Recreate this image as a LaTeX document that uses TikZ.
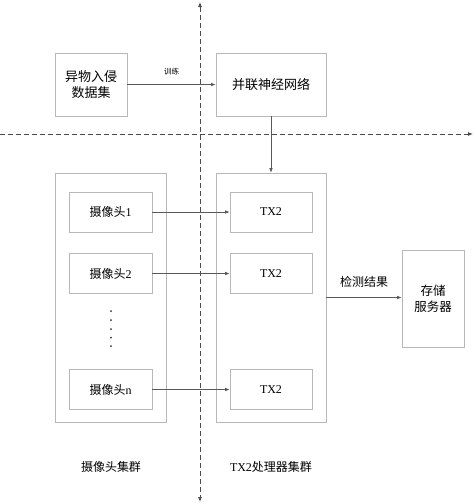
\documentclass[tikz,border=0pt]{standalone}
\usepackage{fontspec}
\setmainfont{Liberation Serif}
\newfontfamily\cjk{Noto Sans CJK SC}
\usetikzlibrary{arrows.meta}

\tikzset{
  box/.style={draw=black!28, line width=0.6pt, rectangle, align=center, inner sep=0pt},
  link/.style={draw=black!65, line width=0.6pt, -{Latex[length=4.5pt,width=3.5pt]}},
  axis/.style={draw=black!70, line width=0.8pt, dash pattern=on 5pt off 3pt},
}

\begin{document}
\begin{tikzpicture}[x=1pt, y=-1pt]
			%%%%% START %%%%%
			\useasboundingbox (0, 0) rectangle (474, 504);
			
			% axes
			\coordinate (vtop) at (200, 2);
			\coordinate (vbot) at (200, 502);
			\coordinate (hleft) at (0, 134);
			\coordinate (hright) at (473, 134);
			\draw[axis, {Latex[length=5pt,width=4pt]}-{Latex[length=5pt,width=4pt]}] (vtop) -- (vbot);
			\draw[axis, -{Latex[length=5pt,width=4pt]}] (hleft) -- (hright);
			
			% training
			\node[box, minimum width=72pt, minimum height=63pt, font=\cjk\fontsize{13}{16}\selectfont] (data) at (91, 84.5) {异物入侵\\数据集};
			\node[box, minimum width=110pt, minimum height=63pt, font=\cjk\fontsize{13}{16}\selectfont] (net) at (271, 84.5) {并联神经网络};
			\draw[link] (data) -- node[above=6pt, font=\cjk\fontsize{7.5}{9}\selectfont] (train) {训练} (net);
			
			% clusters
			\node[box, minimum width=111pt, minimum height=249pt] (camgrp) at (110.5, 297.5) {};
			\node[box, minimum width=110pt, minimum height=249pt] (tx2grp) at (271, 297.5) {};
			\draw[link] (net.south) -- (tx2grp.north);
			
			\node[box, minimum width=83pt, minimum height=40pt, font=\fontsize{12}{14}\selectfont] (cam1) at (110.5, 212) {{\cjk 摄像头}1};
			\node[box, minimum width=83pt, minimum height=40pt, font=\fontsize{12}{14}\selectfont] (cam2) at (110.5, 273.5) {{\cjk 摄像头}2};
			\node[box, minimum width=83pt, minimum height=40pt, font=\fontsize{12}{14}\selectfont] (camn) at (110.5, 389.5) {{\cjk 摄像头}n};
			
			\node[box, minimum width=82pt, minimum height=40pt, font=\fontsize{12}{14}\selectfont] (tx1) at (271, 212) {TX2};
			\node[box, minimum width=82pt, minimum height=40pt, font=\fontsize{12}{14}\selectfont] (tx2) at (271, 273.5) {TX2};
			\node[box, minimum width=82pt, minimum height=40pt, font=\fontsize{12}{14}\selectfont] (txn) at (271, 389.5) {TX2};
			
			\draw[link] (cam1) -- (tx1);
			\draw[link] (cam2) -- (tx2);
			\draw[link] (camn) -- (txn);
			
			\foreach \y in {311, 320, 329, 337.5, 346}
			  \fill[black!80] (111, \y) circle (1pt);
			
			% storage
			\node[box, minimum width=62pt, minimum height=97pt, font=\cjk\fontsize{12.5}{16}\selectfont] (store) at (433, 298.5) {存储\\服务器};
			\draw[link] (tx2grp.east) -- node[above=6pt, font=\cjk\fontsize{12}{14}\selectfont] (result) {检测结果} (tx2grp.east -| store.west);
			
			% captions
			\node[font=\cjk\fontsize{12}{14}\selectfont] (camcap) at (111, 467) {摄像头集群};
			\node[font=\fontsize{12}{14}\selectfont] (txcap) at (271, 467) {TX2{\cjk 处理器集群}};
			%%%%% END %%%%%
\end{tikzpicture}
\end{document}
